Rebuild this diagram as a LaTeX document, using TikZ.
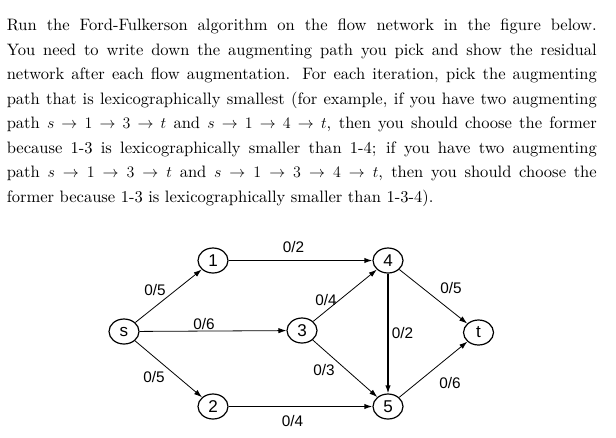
\documentclass[tikz,border=0pt]{standalone}
\usepackage{fontspec}
\setmainfont{lmroman10-regular.otf}[ItalicFont=lmroman10-italic.otf, BoldFont=lmroman10-bold.otf]
\newfontfamily\graphfont{Liberation Sans}
\usetikzlibrary{arrows.meta,shapes.geometric}

\begin{document}
\begin{tikzpicture}[x=0.75pt,y=-0.75pt,-{Latex[length=6pt,width=4pt]}]
      \tikzstyle{vertex}=[draw, ellipse, line width=0.9pt, minimum width=22.5pt, minimum height=18.75pt, inner sep=0pt, font=\graphfont\fontsize{12.8}{14}\selectfont]
      \tikzstyle{weight}=[inner sep=0pt, font=\graphfont\fontsize{11.5}{13}\selectfont]
      \useasboundingbox (0,0) rectangle (616,437);

      \node[anchor=base west, inner sep=0pt, text width=442.5pt, align=justify, font=\fontsize{12.4}{18.43}\selectfont] (task) at (6.5,30.5)
        {Run the Ford-Fulkerson algorithm on the flow network in the figure below.\linebreak
         You need to write down the augmenting path you pick and show the residual\linebreak
         network after each flow augmentation. For each iteration, pick the augmenting\linebreak
         path that is lexicographically smallest (for example, if you have two augmenting\linebreak
         path $s \to 1 \to 3 \to t$ and $s \to 1 \to 4 \to t$, then you should choose the former\linebreak
         because 1-3 is lexicographically smaller than 1-4; if you have two augmenting\linebreak
         path $s \to 1 \to 3 \to t$ and $s \to 1 \to 3 \to 4 \to t$, then you should choose the\linebreak
         former because 1-3 is lexicographically smaller than 1-3-4).};

      \foreach \name/\txt/\x/\y in {s/s/124/331.5, 1/1/213/260.5, 2/2/213/406.5, 3/3/302/330.5, 4/4/388/260.5, 5/5/388/406.5, t/t/478.5/332.5}
        \node[vertex] (G-\name) at (\x,\y) {\txt};

      \foreach \from/\to/\w/\fl/\cap/\lx/\ly in {s/1/0.6/0/5/155/290, s/3/0.6/0/6/204/324.5, s/2/0.6/0/5/154/377, 1/4/0.9/0/2/293.5/247, 2/5/0.9/0/4/292.5/421.5, 3/4/0.6/0/4/326/300.5, 3/5/0.6/0/3/324/370, 4/5/0.9/0/2/402.5/333, 4/t/0.6/0/5/451/288.5, 5/t/0.6/0/6/450/383.5}
      {
        \draw[line width=\w pt] (G-\from) -- (G-\to);
        \node[weight] (W-\from\to) at (\lx,\ly) {\fl/\cap};
      }
    \end{tikzpicture}
\end{document}
